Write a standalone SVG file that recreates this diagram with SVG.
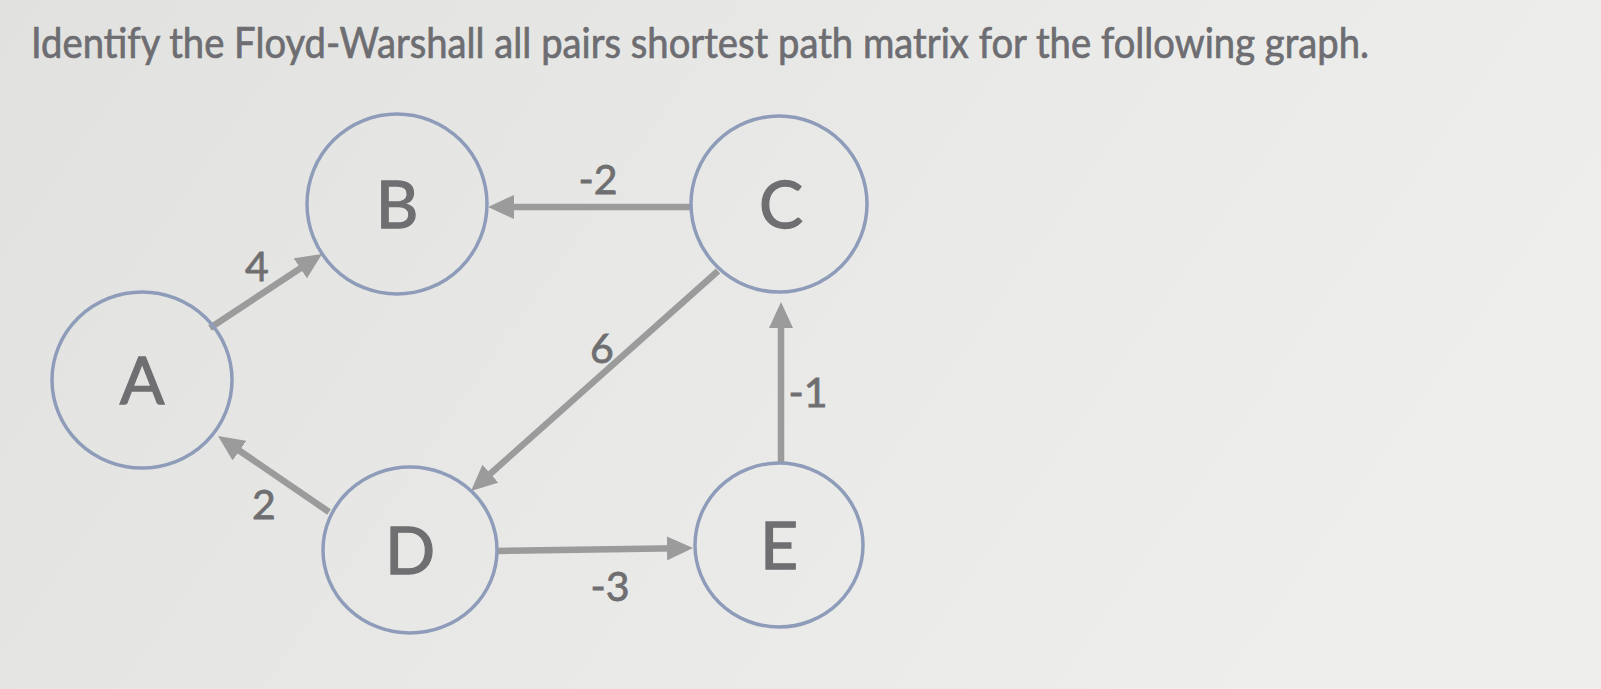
<svg xmlns="http://www.w3.org/2000/svg" width="1601" height="689" viewBox="0 0 1601 689">
<defs>
<linearGradient id="bg" x1="0" y1="0" x2="1" y2="0.3">
<stop offset="0" stop-color="#e1e2df"/>
<stop offset="0.5" stop-color="#e8e9e6"/>
<stop offset="1" stop-color="#eeeeec"/>
</linearGradient>
<marker id="arr" markerUnits="userSpaceOnUse" markerWidth="28" markerHeight="24" refX="11" refY="12" orient="auto">
<path d="M0,0 L26,12 L0,24 z" fill="#9b9b9b"/>
</marker>
<style>
.node{fill:none;stroke:#8e9cba;stroke-width:3.5}
.lbl{font-family:Lato,"Liberation Sans",sans-serif;fill:#6f6f72;stroke:#6f6f72;text-anchor:middle}
.nl{font-size:66px;stroke-width:1.3}
.el{font-size:41px;stroke-width:0.8}
.edge{stroke:#9b9b9b;stroke-width:6.5;fill:none;marker-end:url(#arr)}
</style>
</defs>
<rect width="1601" height="689" fill="url(#bg)"/>
<text x="31" y="58" font-family="Lato,'Liberation Sans',sans-serif" font-size="42" fill="#6d6d72" stroke="#6d6d72" stroke-width="0.7" textLength="1338" lengthAdjust="spacingAndGlyphs">Identify the Floyd-Warshall all pairs shortest path matrix for the following graph.</text>
<g id="edges">
<line class="edge" x1="210" y1="328" x2="309.5" y2="262.3"/>
<line class="edge" x1="691" y1="207" x2="503" y2="207"/>
<line class="edge" x1="718" y1="271" x2="482.2" y2="481"/>
<line class="edge" x1="781" y1="462" x2="781" y2="317"/>
<line class="edge" x1="329" y1="512" x2="230.4" y2="444.5"/>
<line class="edge" x1="497" y1="551" x2="678" y2="548.2"/>
<text class="lbl el" x="257" y="281">4</text>
<text class="lbl el" x="598" y="194">-2</text>
<text class="lbl el" x="602" y="363">6</text>
<text class="lbl el" x="808" y="407">-1</text>
<text class="lbl el" x="264" y="519">2</text>
<text class="lbl el" x="610" y="601">-3</text>
</g>
<g id="A"><ellipse class="node" cx="142" cy="380" rx="90" ry="88"/><text class="lbl nl" x="142" y="404">A</text></g>
<g id="B"><circle class="node" cx="397" cy="204" r="90"/><text class="lbl nl" x="397" y="228">B</text></g>
<g id="C"><circle class="node" cx="779" cy="204" r="88"/><text class="lbl nl" x="781" y="228">C</text></g>
<g id="D"><ellipse class="node" cx="410" cy="550" rx="87" ry="83"/><text class="lbl nl" x="410" y="574">D</text></g>
<g id="E"><ellipse class="node" cx="779" cy="545" rx="84" ry="82"/><text class="lbl nl" x="779" y="569">E</text></g>
</svg>
